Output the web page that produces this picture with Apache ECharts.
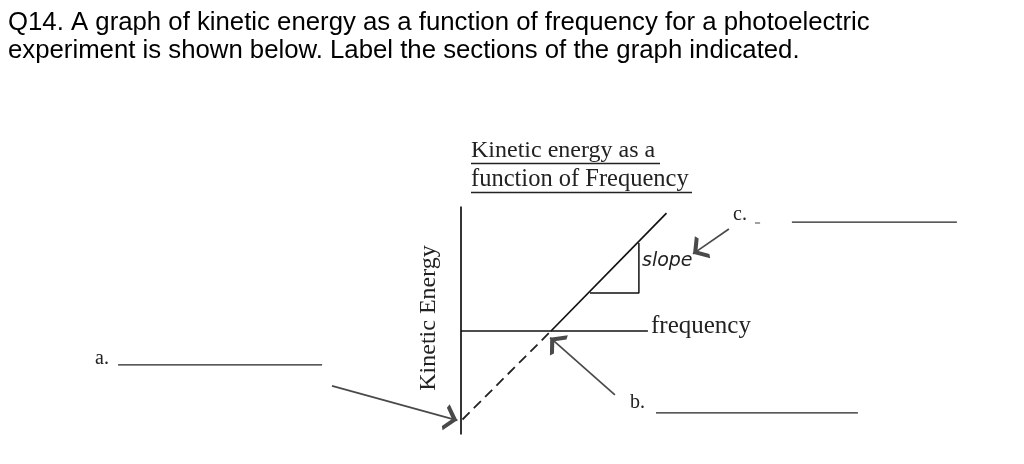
<!DOCTYPE html>
<html><head><meta charset="utf-8">
<script src="https://cdn.jsdelivr.net/npm/echarts@6/dist/echarts.min.js"></script>
<style>html,body{margin:0;padding:0;background:#fff}#c{width:1024px;height:464px}</style>
</head><body><div id="c"></div>
<script>
// Graph geometry in data units (x: frequency, y: kinetic energy)
const energyAxis = [[0, -3.45], [0, 4.15]];
const frequencyAxis = [[0, 0], [6.23, 0]];
const measuredLine = [[3.0, 0], [6.85, 3.93]];
const extrapolatedLine = [[0.05, -2.95], [3.0, 0]];
const slopeTriangle = [[4.3, 1.27], [5.93, 1.27], [5.93, 2.93]];
const arrowA = [[-4.3, -1.83], [-0.12, -2.98]];
const arrowB = [[5.13, -2.13], [2.97, -0.22]];
const arrowC = [[8.93, 3.4], [7.73, 2.57]];
const blankA = [[-11.43, -1.13], [-4.63, -1.13]];
const blankB = [[6.5, -2.73], [13.23, -2.73]];
const blankC = [[11.03, 3.63], [16.53, 3.63]];
const blankCDash = [[9.8, 3.6], [9.97, 3.6]];

const chart = echarts.init(document.getElementById('c'));
const ink = '#111';
function seg(data, extra) {
  return Object.assign({type: 'line', data: data, symbol: 'none', silent: true,
    lineStyle: {color: ink, width: 1.7}, animation: false}, extra || {});
}
// open chevron head; a zero-area sub-path keeps the tip at the symbol centre
const chevron = 'path://M0,0 L6,8.5 L4.2,9.8 L0,4 L-4.2,9.8 L-6,8.5 Z M0,-10 L0.01,-10 L0,-10 Z';
function arrow(coords) {
  return {type: 'lines', coordinateSystem: 'cartesian2d', silent: true, animation: false,
    symbol: ['none', chevron], symbolSize: [16, 27],
    lineStyle: {color: '#4a4a4a', width: 1.7, opacity: 1},
    data: [{coords: coords}]};
}
chart.setOption({
  backgroundColor: '#fff',
  animation: false,
  grid: {left: 11, right: 23, top: 181, bottom: 13},
  xAxis: {type: 'value', min: -15, max: 18, show: false},
  yAxis: {type: 'value', min: -4, max: 5, show: false},
  series: [
    seg(energyAxis),
    seg(frequencyAxis),
    seg(measuredLine),
    seg(extrapolatedLine, {lineStyle: {color: '#222', width: 1.8, type: [10, 6]}}),
    seg(slopeTriangle, {lineStyle: {color: ink, width: 1.5}}),
    seg(blankA, {lineStyle: {color: '#222', width: 1.3}}),
    seg(blankB, {lineStyle: {color: '#222', width: 1.3}}),
    seg(blankC, {lineStyle: {color: '#222', width: 1.3}}),
    seg(blankCDash, {lineStyle: {color: '#444', width: 1}}),
    arrow(arrowA), arrow(arrowB), arrow(arrowC)
  ],
  graphic: [
    {type: 'text', left: 8, top: 11, scaleX: 1.03, style: {text: 'Q14. A graph of kinetic energy as a function of frequency for a photoelectric', font: '25px "Liberation Sans", Arial, sans-serif', fill: '#000'}},
    {type: 'text', left: 8, top: 39, scaleX: 1.03, style: {text: 'experiment is shown below. Label the sections of the graph indicated.', font: '25px "Liberation Sans", Arial, sans-serif', fill: '#000'}},
    {type: 'text', left: 471, top: 139, style: {text: 'Kinetic energy as a', font: '24px "Liberation Serif", serif', fill: '#222'}},
    {type: 'text', left: 471, top: 167, style: {text: 'function of Frequency', font: '24.5px "Liberation Serif", serif', fill: '#222'}},
    {type: 'line', shape: {x1: 471, y1: 163.5, x2: 660, y2: 163.5}, style: {stroke: '#222', lineWidth: 1.3}},
    {type: 'line', shape: {x1: 471, y1: 192.5, x2: 692, y2: 192.5}, style: {stroke: '#222', lineWidth: 1.3}},
    {type: 'text', x: 429, y: 318, rotation: Math.PI / 2, style: {text: 'Kinetic Energy', font: '24px "Liberation Serif", serif', fill: '#222', align: 'center', verticalAlign: 'middle'}},
    {type: 'text', left: 642, top: 252, style: {text: 'slope', font: 'italic 19px "DejaVu Sans", sans-serif', fill: '#222'}},
    {type: 'text', left: 651, top: 314, style: {text: 'frequency', font: '25px "Liberation Serif", serif', fill: '#222'}},
    {type: 'text', left: 95, top: 349, style: {text: 'a.', font: '20px "Liberation Serif", serif', fill: '#222'}},
    {type: 'text', left: 630, top: 393, style: {text: 'b.', font: '20px "Liberation Serif", serif', fill: '#222'}},
    {type: 'text', left: 733, top: 205, style: {text: 'c.', font: '20px "Liberation Serif", serif', fill: '#222'}}
  ]
});
</script></body></html>
